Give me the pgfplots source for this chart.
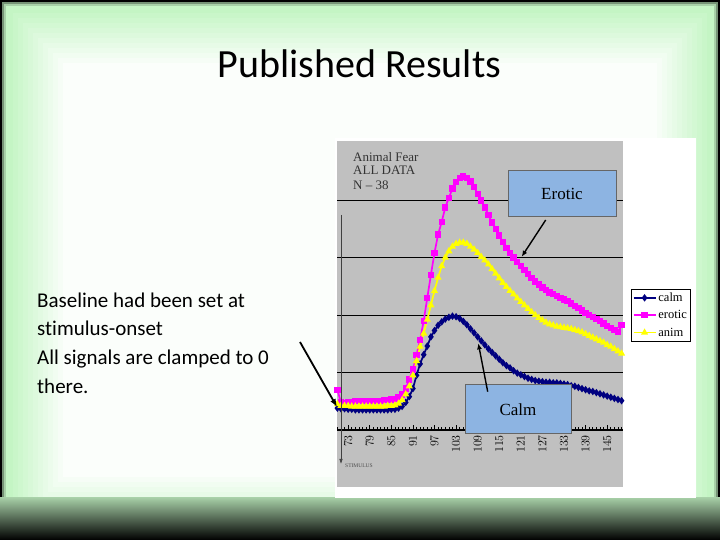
\documentclass[border=0pt]{standalone}
\usepackage{pgfplots}
\pgfplotsset{compat=1.18}
\usepackage{pgfplotstable}
\usepackage{fontspec}
\setmainfont{Liberation Serif}
\newfontfamily\calfont[Ligatures=NoCommon]{Carlito}
\usetikzlibrary{arrows.meta}
\definecolor{bgg}{RGB}{196,245,196}
\definecolor{navyc}{RGB}{0,0,128}
\definecolor{magc}{RGB}{255,0,255}
\definecolor{yelc}{RGB}{255,255,0}
\definecolor{plotgray}{RGB}{192,192,192}
\definecolor{boxblue}{RGB}{141,180,226}
\pgfplotstableread{
x calm erotic anim
70 0.38 0.70 0.45
71 0.37 0.48 0.42
72 0.37 0.47 0.42
73 0.36 0.48 0.42
74 0.36 0.49 0.41
75 0.35 0.50 0.41
76 0.35 0.51 0.41
77 0.35 0.51 0.41
78 0.35 0.51 0.41
79 0.35 0.51 0.41
80 0.35 0.51 0.41
81 0.35 0.51 0.41
82 0.35 0.51 0.41
83 0.35 0.52 0.41
84 0.35 0.52 0.42
85 0.36 0.53 0.42
86 0.36 0.54 0.43
87 0.38 0.57 0.46
88 0.41 0.62 0.52
89 0.48 0.72 0.62
90 0.58 0.88 0.76
91 0.72 1.05 0.95
92 0.95 1.30 1.20
93 1.15 1.57 1.45
94 1.31 1.90 1.68
95 1.46 2.30 1.92
96 1.62 2.70 2.17
97 1.73 3.08 2.42
98 1.82 3.40 2.65
99 1.88 3.62 2.85
100 1.93 3.87 3.00
101 1.96 4.04 3.11
102 1.98 4.20 3.19
103 1.97 4.31 3.24
104 1.94 4.38 3.26
105 1.89 4.41 3.26
106 1.83 4.38 3.24
107 1.76 4.32 3.19
108 1.69 4.22 3.14
109 1.62 4.11 3.08
110 1.55 3.99 3.01
111 1.48 3.87 2.95
112 1.41 3.74 2.88
113 1.35 3.61 2.80
114 1.29 3.50 2.72
115 1.23 3.38 2.64
116 1.17 3.27 2.56
117 1.12 3.17 2.49
118 1.08 3.08 2.42
119 1.03 3.00 2.36
120 0.99 2.92 2.29
121 0.96 2.85 2.23
122 0.93 2.78 2.17
123 0.90 2.71 2.11
124 0.88 2.64 2.05
125 0.86 2.58 2.00
126 0.85 2.53 1.95
127 0.84 2.48 1.91
128 0.83 2.43 1.87
129 0.83 2.39 1.84
130 0.82 2.36 1.82
131 0.82 2.33 1.80
132 0.81 2.30 1.79
133 0.80 2.27 1.78
134 0.79 2.24 1.77
135 0.77 2.20 1.76
136 0.76 2.16 1.74
137 0.74 2.12 1.72
138 0.72 2.08 1.70
139 0.70 2.04 1.67
140 0.68 2.00 1.64
141 0.67 1.96 1.61
142 0.65 1.93 1.58
143 0.63 1.89 1.55
144 0.61 1.85 1.52
145 0.59 1.81 1.48
146 0.57 1.78 1.45
147 0.55 1.74 1.41
148 0.53 1.70 1.37
149 0.51 1.82 1.33
}\datatable
\begin{document}
\begin{tikzpicture}[x=1pt,y=1pt]
\useasboundingbox (0,0) rectangle (720,540);
% slide background
\fill[black] (0,0) rectangle (720,540);
\fill[bgg!60!black] (2,2) rectangle (718,538);
\fill[bgg!85!black] (4,4) rectangle (716,536);
\fill[bgg] (6,6) rectangle (714,534);
\foreach \i in {0,...,11} {
  \pgfmathsetmacro\p{100-\i*8.5}
  \fill[bgg!\p!white] (8+\i*5, 8+\i*5) rectangle (712-\i*5, 532-\i*5);
}
\shade[top color={rgb,255:red,165;green,205;blue,165}, bottom color=black] (0,0) rectangle (720,42);
% title and text
\node[anchor=base, font=\calfont\fontsize{40}{44}\selectfont, inner sep=0] at (359.5,462.7) {Published Results};
\begin{scope}[every node/.style={anchor=base west, inner sep=0, font=\calfont\fontsize{21}{25}\selectfont}]
\node at (37,232.3) {Baseline had been set at};
\node at (37,204.3) {stimulus-onset};
\node at (37,175.7) {All signals are clamped to 0};
\node at (37,146.7) {there.};
\end{scope}
% chart image area
\fill[white] (335,42) rectangle (696,402);
\fill[plotgray] (337,53) rectangle (623,399);
\begin{axis}[
  at={(337pt,53pt)}, anchor=south west,
  scale only axis, width=286pt, height=346pt,
  xmin=69.9, xmax=149.4, ymin=-0.991, ymax=5.026,
  axis x line=middle, axis y line=left,
  x axis line style={black, line width=1.2pt, -},
  y axis line style={draw=none},
  xtick={73,79,...,145},
  minor xtick={70,...,149},
  ytick={1,2,3,4}, yticklabels={},
  y tick style={draw=none},
  ymajorgrids, grid style={black, line width=0.9pt},
  x tick style={black, line width=0.6pt},
  major tick length=5pt, minor tick length=3pt, tick align=inside,
  xticklabel style={rotate=90, anchor=east, font=\fontsize{12.5}{12.5}\selectfont, inner sep=5pt},
  legend style={at={(1.028,0.572)}, anchor=north west, draw=black, fill=white,
    font=\fontsize{12.5}{12.5}\selectfont, inner sep=1.5pt, row sep=3.5pt, legend cell align=left},
  legend image code/.code={\draw[mark repeat=2,mark phase=2] plot coordinates {(0pt,0pt) (11pt,0pt) (22pt,0pt)};},
]
\addplot[color=navyc, line width=1.7pt, mark=diamond*, mark size=2.4pt] table[x=x,y=calm] {\datatable};
\addlegendentry{calm}
\addplot[color=magc, line width=1.7pt, mark=square*, mark size=2.3pt] table[x=x,y=erotic] {\datatable};
\addlegendentry{erotic}
\addplot[color=yelc, line width=1.7pt, mark=triangle*, mark size=2.5pt] table[x=x,y=anim] {\datatable};
\addlegendentry{anim}
\end{axis}
% annotations inside chart image
\begin{scope}[every node/.style={anchor=base west, inner sep=0, font=\fontsize{13}{14}\selectfont, text=black!80}]
\node at (353,378) {Animal Fear};
\node at (353,365) {ALL DATA};
\node at (353,350) {N -- 38};
\end{scope}
\draw[black!75, line width=0.6pt, -{Latex[length=5pt,width=3.5pt]}] (341,325) -- (341,76);
\node[anchor=west, inner sep=0, font=\fontsize{5.5}{6}\selectfont, text=black!70] at (345,74) {STIMULUS};
\draw[fill=boxblue, draw=black!60, line width=0.5pt] (508,324) rectangle (616,370);
\node[font=\fontsize{17}{18}\selectfont] at (562,346) {Erotic};
\draw[black, line width=1.4pt, -{Latex[length=6pt,width=5pt]}] (545.7,320) -- (521.7,283.3);
\draw[fill=boxblue, draw=black!60, line width=0.5pt] (465,107) rectangle (571,156);
\node[font=\fontsize{17}{18}\selectfont] at (518,130) {Calm};
\draw[black, line width=1.4pt, -{Latex[length=6pt,width=5pt]}] (487.7,148.3) -- (478.3,196.7);
% slide arrow
\draw[black, line width=1.8pt, -{Latex[length=8pt,width=6pt]}] (300,198) -- (337,133);
\end{tikzpicture}
\end{document}
